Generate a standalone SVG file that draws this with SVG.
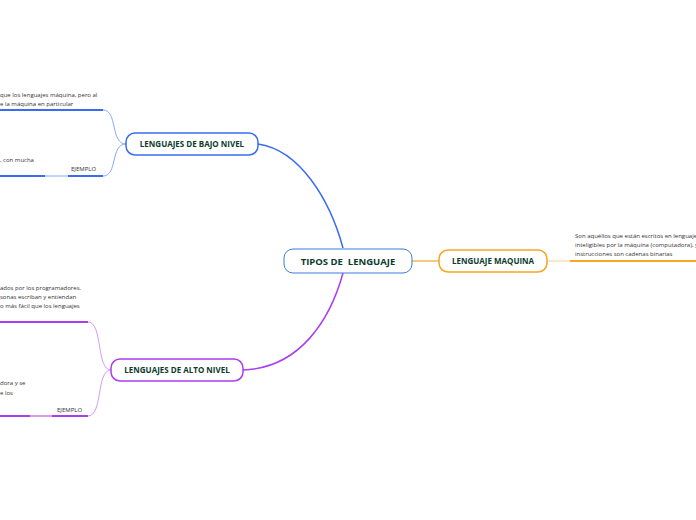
<svg xmlns="http://www.w3.org/2000/svg" width="696" height="520" viewBox="0 0 696 520">
<style>
text{font-family:"Open Sans","Noto Sans",sans-serif;}
.t{font-size:6px;fill:#333}
.n{font-size:8px;font-weight:bold;fill:#0d3b2e;text-anchor:middle}
.c{fill:none}
</style>
<rect width="696" height="520" fill="#fff"/>
<g id="connectors" class="c">
<path d="M343 248 C330 200,300 150,258 144" stroke="#3a6cf0" stroke-width="1.5"/>
<path d="M343 273 C330 320,300 368,243 370" stroke="#a93df0" stroke-width="1.5"/>
<path d="M412 261 H440" stroke="#f5a623" stroke-width="1.2"/>
<path d="M548 261 H570" stroke="#fbd9a0" stroke-width="1.2"/>
<path d="M570 261 H696" stroke="#f5a623" stroke-width="2"/>
<path d="M126 144 C110 144,118 110,103 110 H0" stroke="#8aa8f5" stroke-width="1"/>
<path d="M126 144 C110 144,118 176,103 176" stroke="#8aa8f5" stroke-width="1"/>
<path d="M0 110 H103" stroke="#3a6cf0" stroke-width="2"/>
<path d="M0 176 H45 M68 176 H103" stroke="#3a6cf0" stroke-width="2"/>
<path d="M45 176 H68" stroke="#8aa8f5" stroke-width="1"/>
<path d="M111 370 C96 370,103 322,88 322" stroke="#d49af5" stroke-width="1"/>
<path d="M111 370 C96 370,103 416,88 416" stroke="#d49af5" stroke-width="1"/>
<path d="M0 322 H88" stroke="#a93df0" stroke-width="2"/>
<path d="M0 416 H30 M52 416 H88" stroke="#a93df0" stroke-width="2"/>
<path d="M30 416 H52" stroke="#d49af5" stroke-width="2"/>
</g>
<g id="root"><rect x="284" y="249" width="128" height="24" rx="9" fill="#fff" stroke="#3b7dd8" stroke-width="1"/><text class="n" x="348" y="265" style="font-size:9.5px">TIPOS DE&#160; LENGUAJE</text></g>
<g id="bajo"><rect x="126" y="133" width="132" height="22" rx="9" fill="#fff" stroke="#3a6cf0" stroke-width="1.5"/><text class="n" x="192" y="147">LENGUAJES DE BAJO NIVEL</text></g>
<g id="alto"><rect x="111" y="359" width="132" height="22" rx="9" fill="#fff" stroke="#a93df0" stroke-width="1.5"/><text class="n" x="177" y="373">LENGUAJES DE ALTO NIVEL</text></g>
<g id="maquina"><rect x="439" y="250" width="108" height="22" rx="9" fill="#fff" stroke="#f5a623" stroke-width="1.5"/><text class="n" x="493" y="264">LENGUAJE MAQUINA</text></g>
<g id="texts">
<text class="t" x="0" y="97">que los lenguajes máquina, pero al</text>
<text class="t" x="0" y="106">e la máquina en particular</text>
<text class="t" x="0" y="162">, con mucha</text>
<text class="t" x="71" y="171">EJEMPLO</text>
<text class="t" x="0" y="290">ados por los programadores.</text>
<text class="t" x="0" y="299">sonas escriban y entiendan</text>
<text class="t" x="0" y="308">o más fácil que los lenguajes</text>
<text class="t" x="0" y="385">dora y se</text>
<text class="t" x="0" y="395">e los</text>
<text class="t" x="57" y="412">EJEMPLO</text>
<text class="t" x="575" y="238">Son aquéllos que están escritos en lenguajes</text>
<text class="t" x="575" y="247">inteligibles por la máquina (computadora), ya</text>
<text class="t" x="575" y="256">instrucciones son cadenas binarias</text>
</g>
</svg>
